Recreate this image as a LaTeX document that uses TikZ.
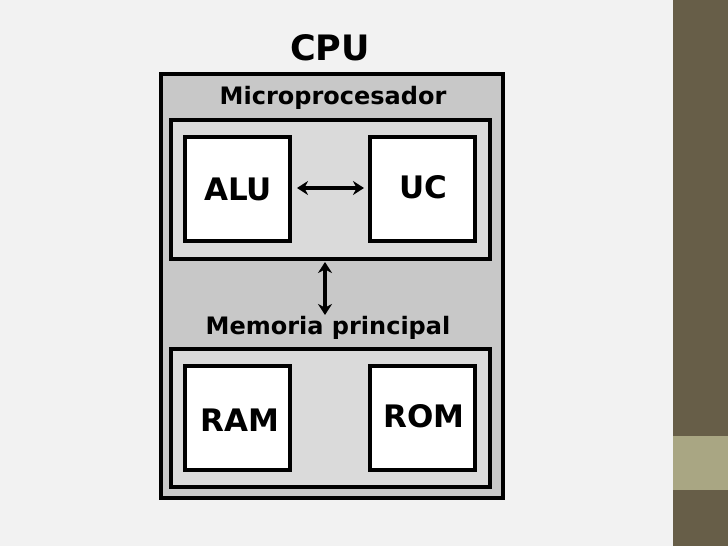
\documentclass[tikz,border=0pt]{standalone}
\usepackage{fontspec}
\setmainfont{DejaVu Sans}
\usetikzlibrary{arrows.meta}
\begin{document}
\begin{tikzpicture}[x=1pt,y=-1pt,
  box/.style={draw=black,line width=3.5pt},
  lbl/.style={font=\bfseries\fontsize{24}{28}\selectfont},
  big/.style={font=\bfseries\fontsize{31}{35}\selectfont},
  arr/.style={line width=4pt,{Stealth[length=11pt,width=14pt]}-{Stealth[length=11pt,width=14pt]}}]
\useasboundingbox (0,0) rectangle (728,546);
\fill[color={rgb,255:red,242;green,242;blue,242}] (0,0) rectangle (728,546);
\fill[color={rgb,255:red,103;green,94;blue,72}] (673,0) rectangle (728,546);
\fill[color={rgb,255:red,169;green,166;blue,131}] (673,436) rectangle (728,490);
\node[font=\bfseries\fontsize{35}{40}\selectfont] (cpu) at (330,48) {CPU};
\draw[box,fill={rgb,255:red,200;green,200;blue,200}] (161,74) rectangle (503,498);
\node[lbl] (mp) at (333,98) {Microprocesador};
\draw[box,fill={rgb,255:red,218;green,218;blue,218}] (171,120) rectangle (490,259);
\draw[box,fill=white] (185,137) rectangle (290,241);
\node[big] (alu) at (238,189) {ALU};
\draw[box,fill=white] (370,137) rectangle (475,241);
\node[big] (uc) at (423,187) {UC};
\coordinate (a1) at (297,188);
\coordinate (a2) at (364,188);
\draw[arr] (a1) -- (a2);
\coordinate (v1) at (325,262);
\coordinate (v2) at (325,315);
\draw[arr] (v1) -- (v2);
\node[lbl] (mem) at (328,328) {Memoria principal};
\draw[box,fill={rgb,255:red,218;green,218;blue,218}] (171,349) rectangle (490,487);
\draw[box,fill=white] (185,366) rectangle (290,470);
\node[big] (ram) at (240,420) {RAM};
\draw[box,fill=white] (370,366) rectangle (475,470);
\node[big] (rom) at (424,416) {ROM};
\end{tikzpicture}
\end{document}
